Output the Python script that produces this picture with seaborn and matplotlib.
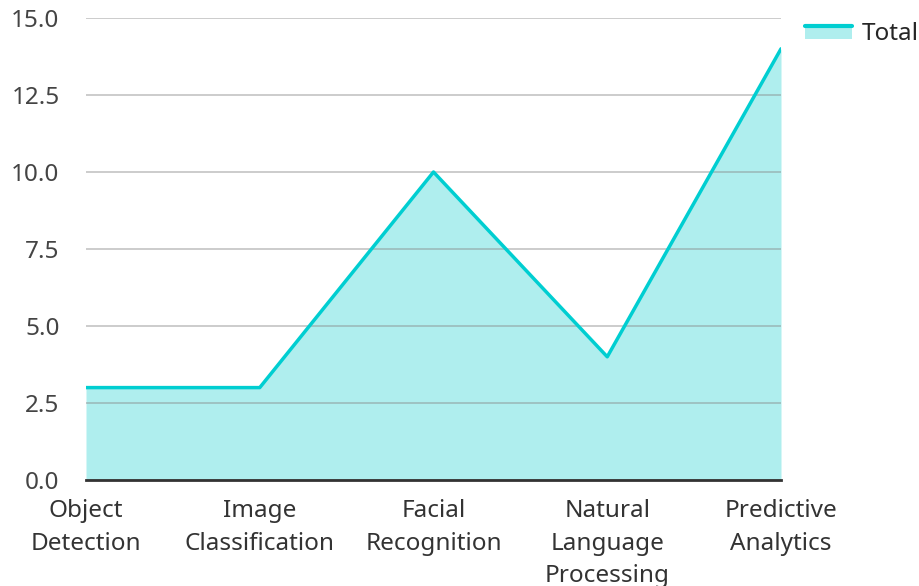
import pandas as pd
import seaborn as sns
import matplotlib
matplotlib.use('Agg')
from matplotlib import pyplot as plt
from matplotlib.patches import Rectangle
from matplotlib.lines import Line2D
from matplotlib.legend_handler import HandlerBase

categories = ["Object\nDetection", "Image\nClassification", "Facial\nRecognition",
              "Natural\nLanguage\nProcessing", "Predictive\nAnalytics"]
totals = [3, 3, 10, 4, 14]
y_ticks = [0.0, 2.5, 5.0, 7.5, 10.0, 12.5, 15.0]

line_color = "#00CED1"
fill_color = "#AFEEEE"


class AreaHandler(HandlerBase):
    # legend key: filled box with the line along its top edge
    def create_artists(self, legend, orig_handle, xdescent, ydescent,
                       width, height, fontsize, trans):
        rect = Rectangle((-xdescent, -ydescent), width, height,
                         facecolor=fill_color, edgecolor="none", transform=trans)
        top = -ydescent + height - 1.2
        line = Line2D([-xdescent, -xdescent + width], [top, top],
                      color=line_color, lw=3, transform=trans)
        return [rect, line]


sns.set_style("white")
plt.rcParams['font.family'] = ['Noto Sans', 'DejaVu Sans']

df = pd.DataFrame({"pos": range(len(categories)), "Total": totals})

fig = plt.figure(figsize=(9.2, 5.86), dpi=100)
ax = fig.add_axes([86 / 920, 1 - 480 / 586, (781 - 86) / 920, (480 - 18) / 586])

ax.fill_between(df["pos"], df["Total"], 0, color=fill_color, lw=0, zorder=1)
sns.lineplot(data=df, x="pos", y="Total", ax=ax, color=line_color, lw=2.5, zorder=3)

ax.set_xlim(0, len(categories) - 1)
ax.set_ylim(0, 15)
ax.set_yticks(y_ticks)
ax.set_yticklabels([f"{v:.1f}" for v in y_ticks])
ax.set_xticks(range(len(categories)))
ax.set_xticklabels(categories, linespacing=1.45)
ax.tick_params(axis='both', labelsize=17.5, colors="#333333", length=0)
ax.tick_params(axis='x', pad=14)
ax.tick_params(axis='y', pad=19)
for lab in ax.get_yticklabels():
    lab.set_color("#444444")

ax.yaxis.grid(True, color="#888888", alpha=0.5, lw=1.2, zorder=2)
ax.set_axisbelow(False)
ax.set_xlabel("")
ax.set_ylabel("")
for side in ["left", "right", "top"]:
    ax.spines[side].set_visible(False)
ax.spines["bottom"].set_color("#333333")
ax.spines["bottom"].set_linewidth(2)
ax.spines["bottom"].set_zorder(4)

ax.legend([object()], ["Total"], handler_map={object: AreaHandler()},
          loc="upper left", bbox_to_anchor=(1.035, 0.991),
          frameon=False, fontsize=17.5, handlelength=1.93, handleheight=0.6,
          handletextpad=0.41, borderpad=0.0, borderaxespad=0.0)

fig.savefig("out.png", dpi=100)
